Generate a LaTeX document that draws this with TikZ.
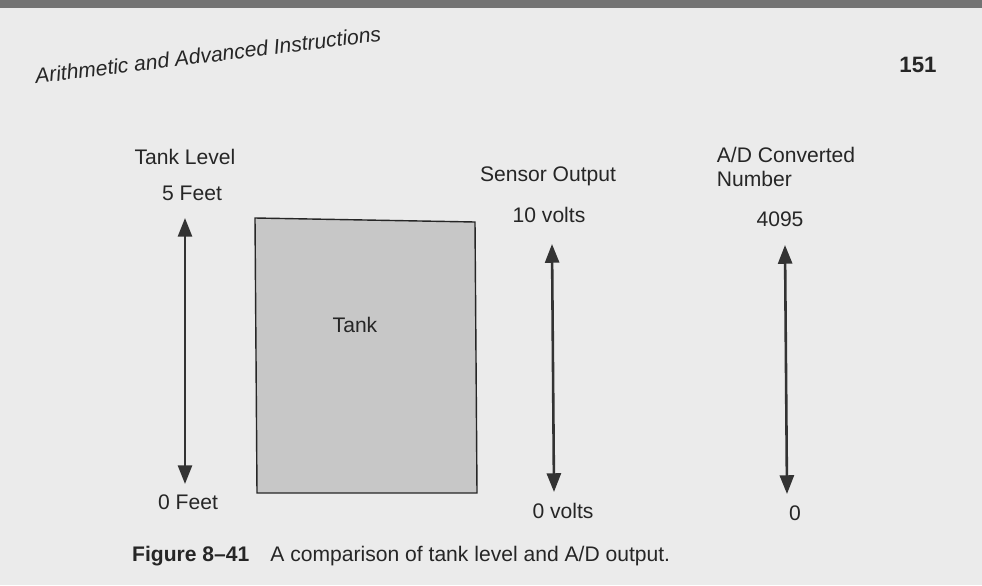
\documentclass[tikz,border=0pt]{standalone}
\usepackage{fontspec}
\setmainfont{Liberation Sans}
\usetikzlibrary{arrows.meta}
\begin{document}
\begin{tikzpicture}[x=0.03cm,y=-0.03cm,
  lbl/.style={font=\fontsize{18}{21}\selectfont,text=black!85},
  dbl/.style={line width=2.2pt,black!80,{Triangle[length=16pt,width=12pt]}-{Triangle[length=16pt,width=12pt]}}]
\useasboundingbox (0,0) rectangle (982,585);
\fill[black!8] (0,0) rectangle (982,585);
\fill[black!55] (0,0) rectangle (982,8);
\node[lbl,font=\fontsize{18}{21}\selectfont\itshape,rotate=7] (hdr) at (208,55) {Arithmetic and Advanced Instructions};
\node[lbl,font=\fontsize{19}{22}\selectfont\bfseries] (pg) at (918,65) {151};
% tank level
\node[lbl] (tl) at (185,157) {Tank Level};
\node[lbl] (tl5) at (192,193) {5 Feet};
\coordinate (a1t) at (185,218); \coordinate (a1b) at (185,484);
\draw[dbl] (a1t) -- (a1b);
\node[lbl] (tl0) at (188,502) {0 Feet};
% tank
\draw[line width=1.2pt,black!85,fill=black!22] (255,218) -- (475,222) -- (477,493) -- (257,493) -- cycle;
\node[lbl] (tank) at (355,325) {Tank};
% sensor
\node[lbl] (so) at (548,176) {Sensor Output};
\node[lbl] (so10) at (549,215) {10 volts};
\coordinate (a2t) at (552,244); \coordinate (a2b) at (554,492);
\draw[dbl] (a2t) -- (a2b);
\node[lbl] (so0) at (563,511) {0 volts};
% A/D
\node[lbl,align=left] (ad) at (786,167) {A/D Converted\\Number};
\node[lbl] (ad4) at (780,219) {4095};
\coordinate (a3t) at (785,245); \coordinate (a3b) at (787,494);
\draw[dbl] (a3t) -- (a3b);
\node[lbl] (ad0) at (795,513) {0};
% caption
\node[lbl,anchor=west] (cap) at (128,556) {\textbf{Figure 8--41}\quad A comparison of tank level and A/D output.};
\end{tikzpicture}
\end{document}
